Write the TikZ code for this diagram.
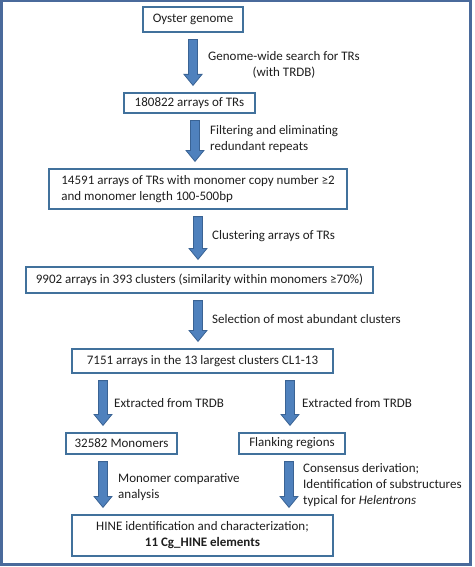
\documentclass[tikz,border=0pt]{standalone}
\usepackage{fontspec}
\setmainfont{Carlito}
\usetikzlibrary{calc}
\definecolor{frameblue}{HTML}{4A6A9B}
\definecolor{boxblue}{HTML}{41719C}
\definecolor{arrowfill}{HTML}{4F81BD}
\definecolor{arrowedge}{HTML}{3A6394}
\definecolor{textgray}{HTML}{1E1E1E}

% block arrow: x position, node above, node below
\newcommand{\blockarrow}[3]{%
        \coordinate (at) at ($(#1,0 |- #2.south)+(0,7)$);
        \coordinate (ae) at ($(#1,0 |- #3.north)+(0,-7)$);
        \draw[flowarrow] ($(at)+(-4.5,0)$) -- ($(ae)+(-4.5,-11)$) -- ($(ae)+(-9,-11)$) -- (ae)
                -- ($(ae)+(9,-11)$) -- ($(ae)+(4.5,-11)$) -- ($(at)+(4.5,0)$) -- cycle;
}

\begin{document}
\begin{tikzpicture}[x=1pt,y=-1pt,
        font=\fontsize{13}{16}\selectfont, text=textgray,
        stepbox/.style={draw=boxblue, line width=1.2pt, inner sep=3pt, align=center},
        flowarrow/.style={fill=arrowfill, draw=arrowedge, line width=0.8pt},
        note/.style={anchor=west, align=left, inner sep=0pt}]
        \useasboundingbox (0,0) rectangle (474,567);
        \draw[frameblue, line width=3.5pt] (1.5,0.5) rectangle (470.5,564.5);

        % boxes
        \node[stepbox, minimum width=100, minimum height=25] (genome) at (193,19.5) {Oyster genome};
        \node[stepbox, minimum width=131, minimum height=20] (arrays) at (189.5,103) {180822 arrays of TRs};
        \node[stepbox, minimum width=298, minimum height=40, align=left] (filtered) at (198,189)
                {14591 arrays of TRs with monomer copy number ≥2\\and monomer length 100-500bp};
        \node[stepbox, minimum width=347, minimum height=26] (clusters) at (199.5,280)
                {9902 arrays in 393 clusters (similarity within monomers ≥70\%)};
        \node[stepbox, minimum width=261, minimum height=24] (largest) at (202.5,361)
                {7151 arrays in the 13 largest clusters CL1-13};
        \node[stepbox, minimum width=111, minimum height=21] (monomers) at (121.5,443.5) {32582 Monomers};
        \node[stepbox, minimum width=106, minimum height=21] (flanking) at (292,443.5) {Flanking regions};
        \node[stepbox, minimum width=261, minimum height=41] (hine) at (202.5,535.5)
                {HINE identification and characterization;\\\textbf{11 Cg\_HINE elements}};

        % arrows
        \blockarrow{193}{genome}{arrays}
        \blockarrow{195}{arrays}{filtered}
        \blockarrow{198}{filtered}{clusters}
        \blockarrow{198}{clusters}{largest}
        \blockarrow{103}{largest}{monomers}
        \blockarrow{290}{largest}{flanking}
        \blockarrow{103}{monomers}{hine}
        \blockarrow{289}{flanking}{hine}

        % labels
        \node[align=center, inner sep=0pt] (l1) at (284,64.5) {Genome-wide search for TRs\\(with TRDB)};
        \node[note] (l2) at (210,139.5) {Filtering and eliminating\\redundant repeats};
        \node[note] (l3) at (212,236) {Clustering arrays of TRs};
        \node[note] (l4) at (212,319) {Selection of most abundant clusters};
        \node[note] (l5) at (114,403) {Extracted from TRDB};
        \node[note] (l6) at (302,403) {Extracted from TRDB};
        \node[note] (l7) at (118,487.5) {Monomer comparative\\analysis};
        \node[note] (l8) at (303,485.5) {Consensus derivation;\\Identification of substructures\\typical for \textit{Helentrons}};
\end{tikzpicture}
\end{document}
